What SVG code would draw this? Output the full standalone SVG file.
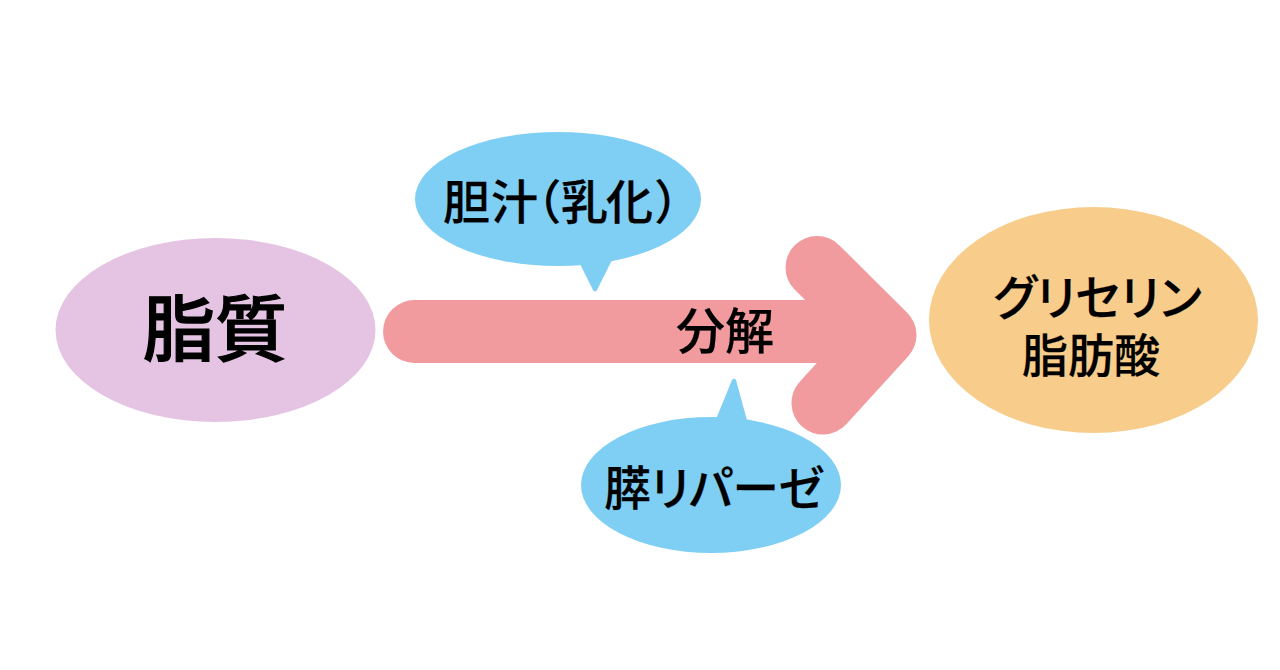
<svg xmlns="http://www.w3.org/2000/svg" width="1280" height="670" viewBox="0 0 1280 670">
<style>
text{font-family:"Noto Sans CJK JP","Noto Sans",sans-serif;font-weight:500;fill:#000;stroke:#000;stroke-width:.25;text-anchor:middle;font-feature-settings:"palt"}
.b{fill:#7fcff4}
</style>
<rect width="1280" height="670" fill="#fff"/>
<g id="connectors">
<path d="M414.500 331.500H850M817 267.500L885 335L823 403" fill="none" stroke="#f29b9e" stroke-width="63" stroke-linecap="round" stroke-linejoin="round"/>
</g>
<g id="node-lipid"><ellipse cx="215.500" cy="330" rx="160" ry="92" fill="#e4c4e2"/><text x="215" y="355" font-size="72" style="stroke-width:1.2">脂質</text></g>
<g id="node-bile"><ellipse cx="558" cy="199" rx="143" ry="67" class="b"/><path d="M578 260L593 290Q595 293 597 290L612 260Z" class="b"/><text x="443 491 536 561 606 656" y="219" font-size="47" style="text-anchor:start">胆汁（乳化）</text></g>
<g id="node-label"><text x="725" y="349" font-size="49">分解</text></g>
<g id="node-lipase"><ellipse cx="711" cy="485" rx="130" ry="68" class="b"/><path d="M714 424L732 380Q734 377 736 380L748 424Z" class="b"/><text x="714" y="505" font-size="46.500">膵リパーゼ</text></g>
<g id="node-products"><ellipse cx="1093.500" cy="320" rx="164.500" ry="113" fill="#f8cc8b"/><text x="1097.500" y="315" font-size="47.500">グリセリン</text><text x="1091" y="372" font-size="46">脂肪酸</text></g>
</svg>
